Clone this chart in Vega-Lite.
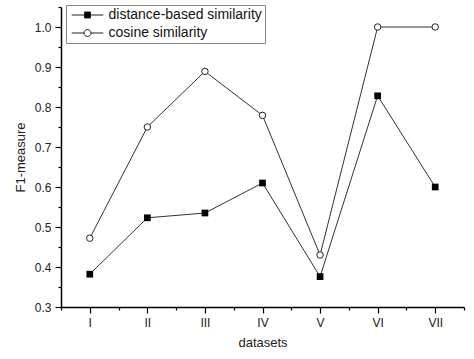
{
  "$schema": "https://vega.github.io/schema/vega-lite/v6.json",
  "autosize": "none",
  "width": 403,
  "height": 300,
  "padding": {"left": 61, "top": 7, "right": 10, "bottom": 52},
  "background": "white",
  "config": {
    "view": {"stroke": null},
    "font": "Liberation Sans",
    "axis": {
      "grid": false,
      "domainColor": "black",
      "domainWidth": 1.5,
      "tickColor": "black",
      "tickWidth": 1.2,
      "labelColor": "#222",
      "labelFont": "Liberation Sans",
      "labelFontSize": 12,
      "titleFont": "Liberation Sans",
      "titleFontSize": 13,
      "titleFontWeight": "normal",
      "titleColor": "#222"
    },
    "legend": {
      "symbolStrokeWidth": 1,
      "symbolOpacity": 1
    }
  },
  "data": {
    "values": [
      {"ds": 1, "series": "distance-based similarity", "f1": 0.382},
      {"ds": 2, "series": "distance-based similarity", "f1": 0.523},
      {"ds": 3, "series": "distance-based similarity", "f1": 0.535},
      {"ds": 4, "series": "distance-based similarity", "f1": 0.61},
      {"ds": 5, "series": "distance-based similarity", "f1": 0.376},
      {"ds": 6, "series": "distance-based similarity", "f1": 0.828},
      {"ds": 7, "series": "distance-based similarity", "f1": 0.6},
      {"ds": 1, "series": "cosine similarity", "f1": 0.472},
      {"ds": 2, "series": "cosine similarity", "f1": 0.75},
      {"ds": 3, "series": "cosine similarity", "f1": 0.889},
      {"ds": 4, "series": "cosine similarity", "f1": 0.779},
      {"ds": 5, "series": "cosine similarity", "f1": 0.43},
      {"ds": 6, "series": "cosine similarity", "f1": 1.0},
      {"ds": 7, "series": "cosine similarity", "f1": 1.0}
    ]
  },
  "encoding": {
    "x": {
      "field": "ds",
      "type": "quantitative",
      "scale": {"domain": [0.5, 7.5], "nice": false, "zero": false},
      "axis": {
        "title": "datasets",
        "values": [0.5, 1, 1.5, 2, 2.5, 3, 3.5, 4, 4.5, 5, 5.5, 6, 6.5, 7, 7.5],
        "labelExpr": "datum.value % 1 ? '' : ['I','II','III','IV','V','VI','VII'][datum.value - 1]",
        "tickSize": {"expr": "datum.value % 1 ? 3 : 6"},
        "labelPadding": 4,
        "titlePadding": 8,
        "labelFlush": false,
        "labelOverlap": false
      }
    },
    "y": {
      "field": "f1",
      "type": "quantitative",
      "scale": {"domain": [0.3, 1.05], "nice": false, "zero": false},
      "axis": {
        "title": "F1-measure",
        "values": [0.3, 0.35, 0.4, 0.45, 0.5, 0.55, 0.6, 0.65, 0.7, 0.75, 0.8, 0.85, 0.9, 0.95, 1.0, 1.05],
        "labelExpr": "round(datum.value * 20) % 2 ? '' : format(datum.value, '.1f')",
        "tickSize": {"expr": "round(datum.value * 20) % 2 ? 3 : 6"},
        "labelPadding": 4,
        "titlePadding": 7,
        "labelFlush": false,
        "labelOverlap": false
      }
    }
  },
  "layer": [
    {
      "mark": {"type": "line", "color": "#333", "strokeWidth": 1},
      "encoding": {"detail": {"field": "series"}}
    },
    {
      "transform": [{"filter": "datum.series == 'distance-based similarity'"}],
      "mark": {"type": "point", "shape": "square", "filled": true, "color": "black", "opacity": 1, "size": 45}
    },
    {
      "transform": [{"filter": "datum.series == 'cosine similarity'"}],
      "mark": {"type": "point", "shape": "circle", "filled": false, "fill": "white", "stroke": "#222", "strokeWidth": 1, "opacity": 1, "size": 42}
    },
    {
      "transform": [{"filter": "datum.f1 > 5"}],
      "mark": {"type": "point", "filled": true, "opacity": 1, "strokeWidth": 1},
      "encoding": {
        "shape": {
          "field": "series",
          "type": "nominal",
          "scale": {
            "domain": ["distance-based similarity", "cosine similarity"],
            "range": [
              "M-0.614,0H1.213M2.073,0H3.9M1.213,-0.43H2.073V0.43H1.213Z",
              "M-0.614,0H1.143M2.143,0H3.9M2.143,0A0.5,0.5,0,1,1,1.143,0A0.5,0.5,0,1,1,2.143,0Z"
            ]
          },
          "legend": {
            "title": null,
            "orient": "none",
            "legendX": 5,
            "legendY": -2,
            "symbolSize": 196,
            "labelFont": "Liberation Sans",
            "labelFontSize": 14,
            "labelColor": "#111",
            "labelOffset": 25,
            "rowPadding": 3,
            "strokeColor": "#888",
            "padding": 2.5
          }
        },
        "fill": {
          "field": "series",
          "type": "nominal",
          "scale": {
            "domain": ["distance-based similarity", "cosine similarity"],
            "range": ["black", "white"]
          },
          "legend": {
            "title": null,
            "orient": "none",
            "legendX": 5,
            "legendY": -2,
            "symbolSize": 196,
            "labelFont": "Liberation Sans",
            "labelFontSize": 14,
            "labelColor": "#111",
            "labelOffset": 25,
            "rowPadding": 3,
            "strokeColor": "#888",
            "padding": 2.5
          }
        },
        "stroke": {
          "field": "series",
          "type": "nominal",
          "scale": {
            "domain": ["distance-based similarity", "cosine similarity"],
            "range": ["#222", "#222"]
          },
          "legend": {
            "title": null,
            "orient": "none",
            "legendX": 5,
            "legendY": -2,
            "symbolSize": 196,
            "labelFont": "Liberation Sans",
            "labelFontSize": 14,
            "labelColor": "#111",
            "labelOffset": 25,
            "rowPadding": 3,
            "strokeColor": "#888",
            "padding": 2.5
          }
        }
      }
    }
  ]
}
